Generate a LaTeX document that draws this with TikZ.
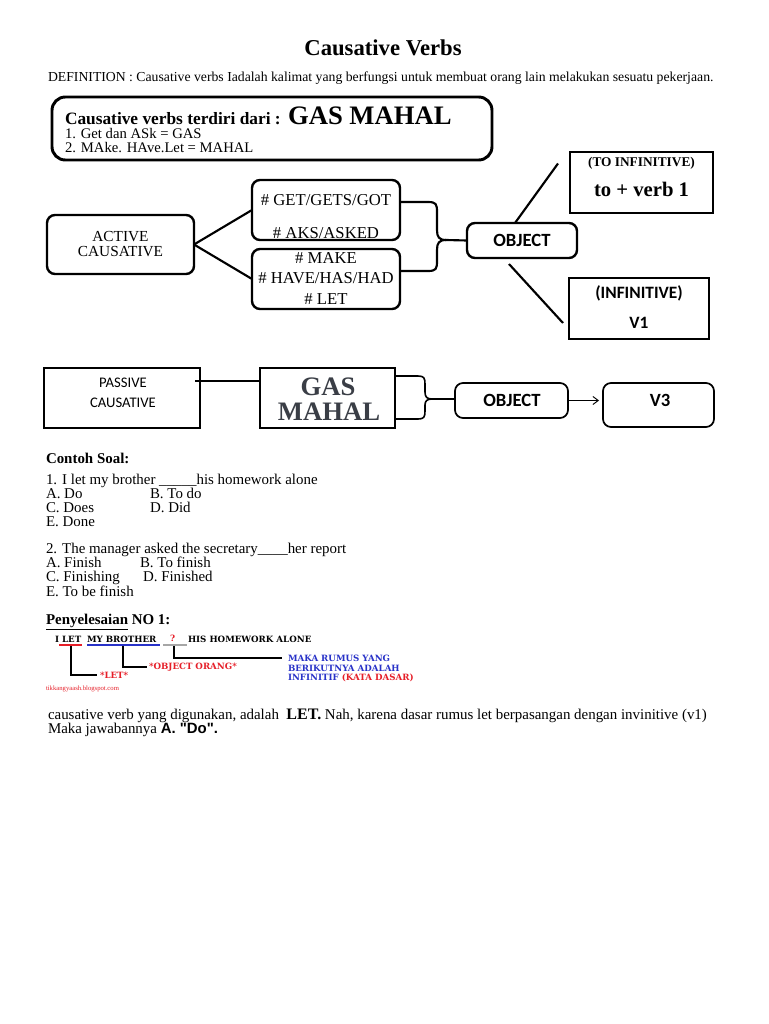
\documentclass[tikz,border=0pt]{standalone}
\usepackage{fontspec}
\setmainfont{Liberation Serif}
\newfontfamily\calfont{Carlito}
\newfontfamily\arialfont{Liberation Sans}
\newfontfamily\heavyfont{DejaVu Serif}
\usetikzlibrary{arrows.meta,calc}
\definecolor{annred}{RGB}{230,30,40}
\definecolor{annblue}{RGB}{40,50,200}
\definecolor{gasgray}{RGB}{58,62,70}
\newcommand\myfs[1]{\fontsize{#1}{#1}\selectfont}
\tikzset{
  wh/.style 2 args={minimum width=#1*0.75pt, minimum height=#2*0.75pt},
  rbox/.style={draw, line width=1.8pt, rounded corners=6pt, inner sep=0pt, outer sep=0pt},
  sbox/.style={draw, line width=2pt, inner sep=0pt, outer sep=0pt},
  conn/.style={line width=1.6pt},
  txt/.style={inner sep=0pt, outer sep=0pt},
  qline/.style={txt, anchor=base west, font=\myfs{11.2}},
  ann/.style={txt, anchor=west, font=\heavyfont\bfseries\myfs{6.5}},
  annline/.style={line width=1.1pt},
}
\begin{document}
\begin{tikzpicture}[x=0.75pt,y=-0.75pt]
\fill[white] (0,0) rectangle (768,1024);
\useasboundingbox (0,0) rectangle (768,1024);

% title and definition
\node[txt, font=\bfseries\myfs{17}] (title) at (383,48) {Causative Verbs};
\node[txt, anchor=west, font=\myfs{10.3}] (def) at (48,78) {DEFINITION : Causative verbs Iadalah kalimat yang berfungsi untuk membuat orang lain melakukan sesuatu pekerjaan.};

% top box
\node[rbox, line width=2.2pt, rounded corners=10pt, wh={440}{63}] (topbox) at (272,128.5) {};
\node[txt, anchor=base west, font=\bfseries\myfs{13}] (tb1) at (65,124) {Causative verbs terdiri dari :};
\node[txt, anchor=base west, font=\bfseries\myfs{20}] (tbgas) at (288,124) {GAS MAHAL};
\node[txt, anchor=base west, font=\myfs{11}] (tb2) at (65,138) {1. Get dan ASk = GAS};
\node[txt, anchor=base west, font=\myfs{11}] (tb3) at (65,152) {2. MAke. HAve.Let = MAHAL};

% active causative
\node[rbox, wh={147}{59}] (act) at (120.5,244.5) {};
\node[txt, font=\myfs{11.5}] (actt1) at (120.5,237) {ACTIVE};
\node[txt, font=\myfs{11.5}] (actt2) at (120.5,252) {CAUSATIVE};

\node[rbox, wh={148}{60}] (get) at (326,210) {};
\node[txt, font=\myfs{12.5}] (gett1) at (326,200) {\# GET/GETS/GOT};
\node[txt, font=\myfs{12.5}] (gett2) at (326,233) {\# AKS/ASKED};

\node[rbox, wh={148}{60}] (make) at (326,279) {};
\node[txt, font=\myfs{12.5}] (makt1) at (326,258) {\# MAKE};
\node[txt, font=\myfs{12.5}] (makt2) at (326,278) {\# HAVE/HAS/HAD};
\node[txt, font=\myfs{12.5}] (makt3) at (326,299) {\# LET};

\node[rbox, wh={110}{35}] (obj1) at (522,240.5) {};
\node[txt, font=\calfont\bfseries\myfs{14}] (obj1t) at (522,240.5) {OBJECT};

\node[sbox, wh={143}{61}] (toinf) at (641.5,182.5) {};
\node[txt, font=\bfseries\myfs{10}] (toinft1) at (641.5,163) {(TO INFINITIVE)};
\node[txt, font=\bfseries\myfs{15.5}] (toinft2) at (641.5,189) {to + verb 1};

\node[sbox, wh={140}{61}] (inf) at (639,308.5) {};
\node[txt, font=\calfont\bfseries\myfs{13}] (inft1) at (639,293) {(INFINITIVE)};
\node[txt, font=\calfont\bfseries\myfs{13}] (inft2) at (639,323) {V1};

\draw[conn] (act.east) -- (get.west);
\draw[conn] (act.east) -- (make.west);
\draw[conn] ($(get.east)+(0,-8)$) -- (428,202) .. controls (436,202) and (437,204) .. (437,212)
   -- (437,230) .. controls (437,237) and (439,240) .. (446,240) -- (obj1.west);
\draw[conn] ($(make.east)+(0,-8)$) -- (428,271) .. controls (436,271) and (437,269) .. (437,261)
   -- (437,250) .. controls (437,243) and (439,240) .. (446,240);
\draw[conn] ($(obj1.north)+(-7,0)$) -- ($(toinf.west)+(-12,-19)$);
\draw[conn] ($(obj1.south)+(-13,6)$) -- ($(inf.west)+(-6,14.5)$);

% passive causative
\node[sbox, line width=1.5pt, wh={156}{60}] (pass) at (122,398) {};
\node[txt, font=\calfont\myfs{11}] (passt1) at (123,383) {PASSIVE};
\node[txt, font=\calfont\myfs{11}] (passt2) at (123,403) {CAUSATIVE};

\node[sbox, line width=1.8pt, wh={135}{60}] (gas) at (327.5,398) {};
\node[txt, font=\bfseries\myfs{20}, text=gasgray] (gast1) at (328,387) {GAS};
\node[txt, font=\bfseries\myfs{20}, text=gasgray] (gast2) at (329,412) {MAHAL};

\node[rbox, line width=1.3pt, wh={113}{35}] (obj2) at (511.5,400.5) {};
\node[txt, font=\calfont\bfseries\myfs{14}] (obj2t) at (512,400) {OBJECT};

\node[rbox, line width=1.3pt, wh={111}{44}] (v3) at (658.5,405) {};
\node[txt, font=\calfont\bfseries\myfs{14}] (v3t) at (660,400) {V3};

\draw[line width=0.9pt] ($(pass.east)+(-5,-17)$) -- ($(gas.west)+(0,-17)$);
\draw[line width=1.2pt] ($(gas.east)+(0,-22)$) -- (418,376) .. controls (424,376) and (425,378) .. (425,384)
   -- (425,392) .. controls (425,397) and (427,399) .. (432,399) -- (obj2.west |- 0,399);
\draw[line width=1.2pt] ($(gas.east)+(0,21)$) -- (418,419) .. controls (424,419) and (425,417) .. (425,411)
   -- (425,405) .. controls (425,401) and (427,399) .. (432,399);
\draw[line width=0.7pt, -{Straight Barb[length=4pt,width=6pt]}] (obj2.east) -- ([xshift=-3pt]obj2.east -| v3.west);

% questions
\node[qline, font=\bfseries\myfs{11.2}] (cs) at (46,463) {Contoh Soal:};
\node[qline] (q1) at (46,484) {1. I let my brother \_\_\_\_\_his homework alone};
\node[qline] (q1a) at (46,498) {A. Do};
\node[qline] (q1b) at (150,498) {B. To do};
\node[qline] (q1c) at (46,512) {C. Does};
\node[qline] (q1d) at (150,512) {D. Did};
\node[qline] (q1e) at (46,526) {E. Done};
\node[qline] (q2) at (46,553) {2. The manager asked the secretary\_\_\_\_her report};
\node[qline] (q2a) at (46,567) {A. Finish};
\node[qline] (q2b) at (140,567) {B. To finish};
\node[qline] (q2c) at (46,581) {C. Finishing};
\node[qline] (q2d) at (143,581) {D. Finished};
\node[qline] (q2e) at (46,596) {E. To be finish};

\node[qline, font=\bfseries\myfs{11.2}] (peny) at (46,624) {\underline{Penyelesaian} NO 1:};

% annotation
\node[ann] (a1) at (55,639) {I LET};
\node[ann] (a2) at (87,639) {MY BROTHER};
\node[ann, text=annred] (a3) at (170,638) {?};
\node[ann] (a4) at (188,639) {HIS HOMEWORK ALONE};
\draw[annred, line width=1pt] (59,645) -- (82,645);
\draw[annblue, line width=1pt] (87,645) -- (160,645);
\draw[gray!70, line width=1pt] (163,645) -- (187,645);
\coordinate (u1) at (71,646);
\coordinate (u2) at (123,646);
\coordinate (u3) at (174,646);
\node[ann, text=annred] (lbl1) at (100,675) {*LET*};
\node[ann, text=annred] (lbl2) at (149,667) {*OBJECT ORANG*};
\node[ann, text=annblue] (lbl3a) at (288,658) {MAKA RUMUS YANG};
\node[ann, text=annblue] (lbl3b) at (288,668) {BERIKUTNYA ADALAH};
\node[ann, text=annblue] (lbl3c) at (288,678) {INFINITIF \textcolor{annred}{(KATA DASAR)}};
\draw[annline] (u1) |- ($(lbl1.west)+(-3,0)$);
\draw[annline] (u2) |- ($(lbl2.west)+(-2,0)$);
\draw[annline] (u3) |- ($(lbl3a.west)+(-6,0)$);
\node[txt, anchor=west, text=annred, font=\myfs{5}] (wm) at (46,689) {tikkangyaash.blogspot.com};

% conclusion
\node[txt, anchor=base west, font=\myfs{11.2}] (c1) at (48,719) {causative verb yang digunakan, adalah\ \ {\bfseries\myfs{12}LET.} Nah, karena dasar rumus let berpasangan dengan invinitive (v1)};
\node[txt, anchor=base west, font=\myfs{11.2}] (c2) at (48,733) {Maka jawabannya {\arialfont\bfseries A. "Do".}};
\end{tikzpicture}
\end{document}
